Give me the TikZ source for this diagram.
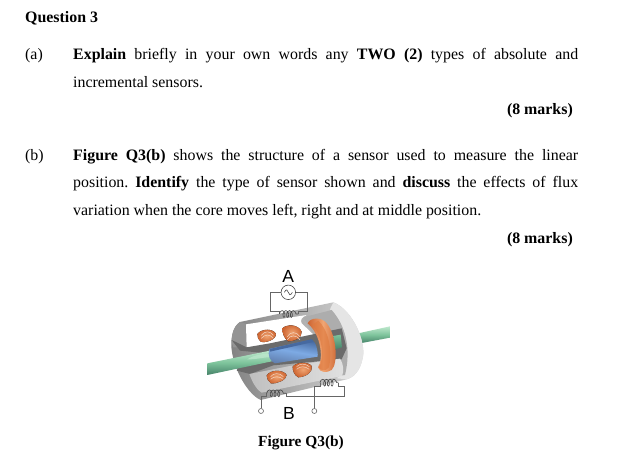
\documentclass[tikz,border=0pt]{standalone}
\usepackage{fontspec}
\setmainfont{Liberation Serif}
\setsansfont{Liberation Sans}
\usetikzlibrary{decorations.pathmorphing}
\definecolor{cop}{RGB}{222,120,60}
\definecolor{copd}{RGB}{205,100,48}
\definecolor{copl}{RGB}{240,165,115}
\definecolor{grn}{RGB}{125,195,155}
\definecolor{grnd}{RGB}{70,130,105}
\definecolor{grnl}{RGB}{190,232,205}
\definecolor{blu}{RGB}{125,170,228}
\definecolor{bld}{RGB}{70,105,160}
\tikzset{
 txt/.style={anchor=base west,inner sep=0pt,font=\fontsize{15.9}{18}\selectfont},
 txtr/.style={anchor=base east,inner sep=0pt,font=\fontsize{15.9}{18}\selectfont},
 txtc/.style={anchor=base,inner sep=0pt,font=\fontsize{15.4}{18}\selectfont},
 lab/.style={anchor=base,inner sep=0pt,font=\sffamily\fontsize{17.5}{20}\selectfont},
 wire/.style={draw=black!60,line width=0.6pt},
 term/.style={circle,draw=black!60,fill=white,line width=0.6pt,minimum size=5pt,inner sep=0pt},
 src/.style={circle,draw=black!70,fill=white,line width=0.6pt,minimum size=14.5pt,inner sep=0pt},
 coilw/.style={draw=black!70,line width=0.65pt,decorate,decoration={coil,aspect=0.55,segment length=3.7pt,amplitude=3.4pt}},
 padcoil/.style={draw=none,inner color=copl,outer color=copd},
 fringe/.style={draw=white!70!cop,line width=0.5pt},
}
\newcommand{\jl}[1]{\makebox[505pt][s]{\frenchspacing #1}}
\begin{document}
\begin{tikzpicture}[x=1pt,y=-1pt]
\useasboundingbox[fill=white] (0,0) rectangle (634,457);
\node[txt] (q) at (25,23) {\textbf{Question 3}};
\node[txt] (a) at (25,60) {(a)};
\node[txt] (a1) at (73,60) {\jl{\textbf{Explain} briefly in your own words any \textbf{TWO (2)} types of absolute and}};
\node[txt] (a2) at (73,88) {incremental sensors.};
\node[txtr] (am) at (573,115) {\textbf{(8 marks)}};
\node[txt] (b) at (25,161) {(b)};
\node[txt] (b1) at (73,161) {\jl{\textbf{Figure Q3(b)} shows the structure of a sensor used to measure the linear}};
\node[txt] (b2) at (73,188) {\jl{position. \textbf{Identify} the type of sensor shown and \textbf{discuss} the effects of flux}};
\node[txt] (b3) at (73,215.5) {variation when the core moves left, right and at middle position.};
\node[txtr] (bm) at (573,243) {\textbf{(8 marks)}};
\node[txtc] (cap) at (301,446) {\textbf{Figure Q3(b)}};
\begin{scope}[shift={(190,260)},x=0.3333pt,y=-0.3333pt]
 % right rod
 \shade[top color=grnl,bottom color=grnd,middle color=grn] (505,220)--(600,199)--(600,233)--(510,250)--cycle;
 % body
 \shade[left color=black!50,right color=black!15,middle color=black!32]
   (150,186) -- (430,127) .. controls (490,150) and (530,250) .. (518,295)
   .. controls (510,335) and (490,352) .. (470,358) -- (212,420)
   .. controls (165,400) and (110,290) .. (127,225) .. controls (130,205) and (140,192) .. (150,186) -- cycle;
 % right end ring
 \fill[black!10] (430,127) .. controls (490,150) and (530,250) .. (518,295)
   .. controls (510,335) and (490,352) .. (470,358) -- (440,355) .. controls (480,330) and (490,210) .. (420,148) -- cycle;
 % inner wall at right end
 \fill[black!32] (340,172) -- (425,150) .. controls (465,195) and (485,265) .. (465,345) -- (400,355) -- (380,240) -- cycle;
 % left end face
 \fill[black!42] (150,186) .. controls (125,205) and (120,240) .. (130,262) -- (170,262) -- (168,192) -- cycle;
 % upper window
 \fill[white] (168,193) -- (350,165) .. controls (335,172) and (330,180) .. (335,190) -- (385,238) -- (170,264) -- cycle;
 % dark band behind the core
 \fill[black!58] (125,240) -- (170,262) -- (240,250) -- (455,205) -- (470,265) -- (455,298) -- (250,316) -- (180,342) -- (140,332) -- (150,315) -- (230,280) -- (150,272) -- cycle;
 % lower window
 \shade[left color=black!25,right color=black!12] (178,342) -- (300,318) -- (450,296) .. controls (462,315) and (462,335) .. (456,348) -- (215,398) .. controls (195,385) and (185,360) .. (178,342) -- cycle;
 % left rod
 \shade[top color=grnl,bottom color=grnd,middle color=grn] (52,310) -- (240,272) -- (250,303) -- (52,345) -- cycle;
 \fill[grnl,opacity=.75] (172,298) .. controls (190,285) and (225,280) .. (246,282) -- (246,292) .. controls (225,290) and (200,299) .. (172,298) -- cycle;
 % right inner rod
 \shade[top color=grn,bottom color=grnd] (430,228) -- (452,224) -- (456,262) -- (435,268) -- cycle;
 % core
 \shade[top color=bld,bottom color=bld!85,middle color=blu,shading angle=-10]
  (238,267) -- (365,238) .. controls (378,245) and (385,275) .. (383,290) -- (255,310) .. controls (240,305) and (232,285) .. (238,267) -- cycle;
 \fill[bld] (238,267) -- (365,238) -- (370,246) -- (240,275) -- cycle;
 % coil pads
 \fill[padcoil] (202,222) .. controls (215,205) and (250,205) .. (258,222) .. controls (258,240) and (225,250) .. (212,245) .. controls (205,240) and (202,232) .. (202,222) -- cycle;
 \fill[padcoil] (277,205) .. controls (290,192) and (325,192) .. (335,215) .. controls (335,235) and (320,242) .. (295,244) .. controls (282,235) and (277,220) .. (277,205) -- cycle;
 \fill[padcoil] (230,347) .. controls (240,328) and (280,328) .. (290,345) .. controls (290,360) and (260,372) .. (243,370) .. controls (235,365) and (230,355) .. (230,347) -- cycle;
 \fill[padcoil] (308,320) .. controls (320,305) and (355,305) .. (365,318) .. controls (370,335) and (350,350) .. (325,352) .. controls (312,345) and (308,332) .. (308,320) -- cycle;
 \foreach \a/\b in {226/212,235/222}{\draw[fringe] (214,\a) .. controls (225,\b) and (240,\b) .. (250,\a);}
 \foreach \a/\b in {230/214,239/224}{\draw[fringe] (292,\a) .. controls (300,\b) and (320,\b) .. (330,\a);}
 \foreach \a/\b in {350/338,358/348}{\draw[fringe] (242,\a) .. controls (250,\b) and (270,\b) .. (280,\a);}
 \foreach \a/\b in {320/310,328/318}{\draw[fringe] (320,\a) .. controls (330,\b) and (345,\b) .. (358,\a);}
 % big ring coil
 \shade[left color=copd,right color=copd,middle color=copl]
  (353,190) .. controls (360,172) and (395,170) .. (410,190) .. controls (440,225) and (445,310) .. (425,330)
  .. controls (410,340) and (390,338) .. (384,322) .. controls (400,300) and (395,225) .. (353,190) -- cycle;
 \fill[cop,opacity=.6] (385,182) .. controls (410,205) and (430,260) .. (417,322) .. controls (405,336) and (392,332) .. (386,322) .. controls (404,300) and (398,225) .. (366,195) -- cycle;
 % A source and loop
 \node[src] (ac) at (295,97) {};
 \draw[line width=0.6pt,black!70] (283,97) .. controls (289,85) and (293,90) .. (295,97) .. controls (297,104) and (301,109) .. (307,97);
 \node[lab] (la) at (295,67) {A};
 \coordinate (cA1) at (268,162); \coordinate (cA2) at (325,162);
 \draw[wire] (ac) -- (241,97) -- (241,153) -- (268,153) -- (cA1);
 \draw[wire] (ac) -- (352,97) -- (352,153) -- (325,153) -- (cA2);
 \draw[coilw] (cA1) -- (cA2);
 % B windings
 \coordinate (cB1) at (230,400); \coordinate (cB2) at (288,400);
 \coordinate (cC1) at (390,368); \coordinate (cC2) at (445,368);
 \node[term] (t1) at (213,453) {};
 \node[term] (t2) at (373,453) {};
 \node[lab] (lb) at (297,478) {B};
 \draw[wire] (t1) -- (213,409) -- (230,409) -- (cB1);
 \draw[wire] (cB2) -- (288,409) -- (464,409) -- (464,378) -- (445,378) -- (cC2);
 \draw[wire] (t2) -- (373,378) -- (390,378) -- (cC1);
 \draw[coilw] (cB1) -- (cB2);
 \draw[coilw] (cC1) -- (cC2);
\end{scope}
\end{tikzpicture}
\end{document}
